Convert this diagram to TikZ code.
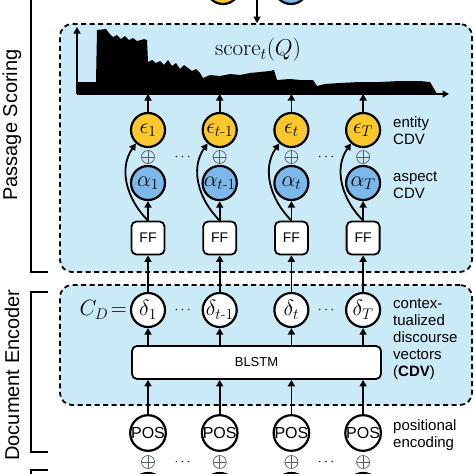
\RequirePackage{fix-cm}
\documentclass[tikz,border=0pt]{standalone}
\usepackage{amsmath}
\usepackage{fontspec}
\setsansfont{Liberation Sans}
\usetikzlibrary{arrows.meta,positioning}

\definecolor{regionblue}{RGB}{203,234,248}
\definecolor{entyellow}{RGB}{250,199,45}
\definecolor{aspblue}{RGB}{124,184,234}
\definecolor{addgray}{RGB}{85,95,105}

\tikzset{
  regionbox/.style={draw, line width=1.8pt, dash pattern=on 5pt off 3.5pt, rounded corners=12pt, fill=regionblue},
  vecnode/.style={circle, draw, line width=2.2pt, minimum size=34pt, inner sep=0pt, fill=white, font=\fontsize{22}{22}\selectfont},
  entnode/.style={vecnode, fill=entyellow},
  aspnode/.style={vecnode, fill=aspblue},
  posnode/.style={vecnode, font=\sffamily\fontsize{16}{16}\selectfont},
  ffnode/.style={draw, rounded corners=5pt, line width=1.8pt, fill=white, minimum size=33pt, inner sep=0pt, font=\sffamily\fontsize{14}{14}\selectfont},
  addnode/.style={circle, draw=addgray, line width=0.7pt, minimum size=13pt, inner sep=0pt,
    path picture={\draw[addgray, line width=0.7pt] (path picture bounding box.north) -- (path picture bounding box.south)
      (path picture bounding box.west) -- (path picture bounding box.east);}},
  dotsnode/.style={font=\fontsize{14}{14}\selectfont, inner sep=0pt},
  sidelabel/.style={anchor=west, align=left, inner sep=0pt, font=\sffamily\fontsize{15}{17}\selectfont},
  sidetitle/.style={rotate=90, inner sep=0pt, font=\sffamily\fontsize{20}{20}\selectfont},
  arr/.style={->, line width=1.8pt},
  bracket/.style={line width=1.8pt}
}

\begin{document}
\begin{tikzpicture}[x=1pt, y=1pt, >={Triangle[length=6.5pt,width=7pt]}]

  \newcommand\X{71.7}

  \fill[white] (0,0) rectangle (474,-474);
  \useasboundingbox (0,0) rectangle (474,-474);
  \clip (0,0) rectangle (474,-474);

  %% dashed regions
  \node[regionbox, minimum width=412pt, minimum height=248pt] (scoring) at (266,-148) {};
  \node[regionbox, minimum width=412pt, minimum height=120pt] (encoder) at (266,-345) {};

  %% stage above (cut off)
  \node[entnode] (prevent) at (223,13) {};
  \node[aspnode] (prevasp) at (291,13) {};
  \coordinate (prevout) at (257,0);
  \draw[arr] (prevout) -- (prevout |- scoring.north);

  %% score curve
  \coordinate (orig) at (77,-94);
  \fill (orig) -- (77,-82) -- (96,-82) -- (97,-30) -- (106,-29) -- (109,-33) -- (113,-37) -- (117,-35)
    -- (121,-39) -- (125,-36) -- (129,-40) -- (133,-38) -- (137,-41) -- (141,-40) -- (144,-39) -- (147,-40)
    -- (148,-62) -- (152,-60) -- (156,-63) -- (160,-61) -- (164,-65) -- (168,-60) -- (172,-66) -- (176,-63)
    -- (180,-69) -- (184,-65) -- (188,-68) -- (192,-71) -- (196,-69) -- (200,-73) -- (203,-78) -- (210,-75)
    -- (220,-76) -- (230,-74) -- (240,-75) -- (250,-73) -- (260,-72) -- (270,-71) -- (274,-70) -- (277,-80)
    -- (290,-79) -- (300,-80) -- (313,-80) -- (317,-86) -- (325,-84) -- (340,-83) -- (360,-82) -- (380,-82)
    -- (400,-81) -- (420,-81) -- (430,-82) -- (433,-87) -- (437,-94) -- cycle;
  \coordinate (ytop) at (77,-27);
  \coordinate (xend) at (449,-94);
  \draw[arr, line width=1.5pt] (orig) -- (ytop);
  \draw[arr, line width=1.5pt] (orig) -- (xend);
  \node[font=\fontsize{23}{23}\selectfont] (score) at (258,-50) {$\mathrm{score}_t(Q)$};

  %% columns
  \foreach \i/\s in {1/1, 2/{t\text{-}1}, 3/t, 4/T}{
    \pgfmathsetmacro\cx{148+(\i-1)*\X}
    \node[entnode] (eps\i) at (\cx,-130) {$\epsilon_{\s}$};
    \node[addnode] (add\i) at (\cx,-157) {};
    \node[aspnode] (asp\i) at (\cx,-183) {$\alpha_{\s}$};
    \node[ffnode] (ff\i) at (\cx,-238) {FF};
    \node[vecnode] (del\i) at (\cx,-310) {$\delta_{\s}$};
    \node[posnode] (pos\i) at (\cx,-433) {POS};
    \node[addnode] (padd\i) at (\cx,-462) {};
    \node[vecnode] (emb\i) at (\cx,-490) {};
  }

  \node[draw, rounded corners=5pt, line width=1.8pt, fill=white, minimum width=249pt, minimum height=33pt,
    font=\sffamily\fontsize{13}{13}\selectfont] (blstm) at (256.5,-362.5) {BLSTM};
  \node[font=\fontsize{22}{22}\selectfont, inner sep=0pt, left=3pt of del1] (cd) {$C_D\!=$};

  \foreach \i in {1,...,4}{
    \draw[arr] (eps\i) -- (eps\i |- orig); %% into the plot
    \draw[arr] (ff\i) -- (asp\i);
    \draw[arr] (ff\i.north) to[out=135, in=235] (eps\i.228); %% skip past aspect
    \draw[arr] (del\i) -- (ff\i);
    \draw[arr] (del\i |- blstm.north) -- (del\i);
    \draw[arr] (pos\i) -- (pos\i |- blstm.south);
  }

  %% dots
  \path (add1) -- node[dotsnode] (dotsa) {$\cdots$} (add2);
  \path (add3) -- node[dotsnode] (dotsb) {$\cdots$} (add4);
  \path (del1) -- node[dotsnode] (dotsc) {$\cdots$} (del2);
  \path (del3) -- node[dotsnode] (dotsd) {$\cdots$} (del4);
  \path (padd1) -- node[dotsnode] (dotse) {$\cdots$} (padd2);
  \path (padd3) -- node[dotsnode] (dotsf) {$\cdots$} (padd4);

  %% side labels
  \node[sidelabel] (entlabel) at (393,-131) {entity\\CDV};
  \node[sidelabel] (asplabel) at (393,-185) {aspect\\CDV};
  \node[sidelabel] (cdvlabel) at (393,-339) {contex-\\tualized\\discourse\\vectors\\(\textbf{CDV})};
  \node[sidelabel] (poslabel) at (393,-435) {positional\\encoding};

  %% brackets
  \draw[bracket] (48,-272) -- (31,-272) -- (31,5);
  \draw[bracket] (48,-292) -- (31,-292) -- (31,-452) -- (48,-452);
  \draw[bracket] (48,-470) -- (31,-470) -- (31,-480);
  \node[sidetitle] (scoringtitle) at (12,-125) {Passage Scoring};
  \node[sidetitle] (encodertitle) at (12,-375) {Document Encoder};

\end{tikzpicture}
\end{document}
